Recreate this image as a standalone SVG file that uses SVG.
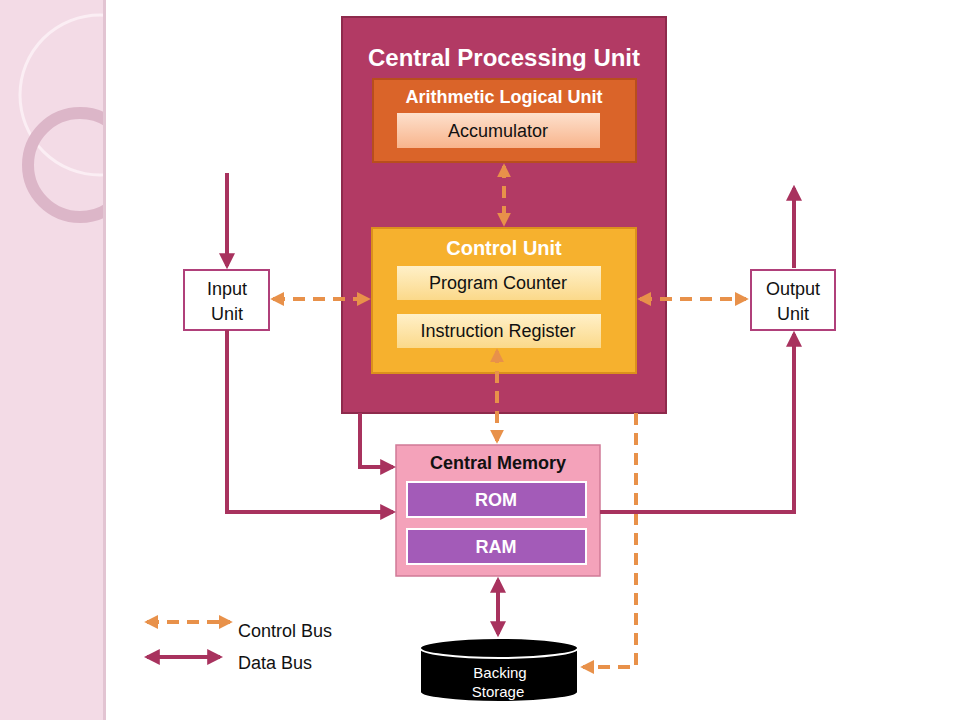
<svg xmlns="http://www.w3.org/2000/svg" width="960" height="720" viewBox="0 0 960 720">
<defs>
<style>
.t{font-family:"Liberation Sans",Arial,sans-serif}
.data{stroke:#a8325e;stroke-width:4;fill:none}
.ctl{stroke:#e8914a;stroke-width:4;fill:none;stroke-dasharray:12 8}
</style>
<clipPath id="strip"><rect x="0" y="0" width="105" height="720"/></clipPath>
<marker id="ad" viewBox="0 0 10 10" refX="8" refY="5" markerWidth="4" markerHeight="4" orient="auto-start-reverse"><path d="M0,0L10,5L0,10z" fill="#a8325e"/></marker>
<marker id="ac" viewBox="0 0 10 10" refX="8" refY="5" markerWidth="3.5" markerHeight="3.5" orient="auto-start-reverse"><path d="M0,0L10,5L0,10z" fill="#e8914a"/></marker>
<linearGradient id="acc" x1="0" y1="0" x2="0" y2="1"><stop offset="0" stop-color="#fde0cc"/><stop offset="1" stop-color="#f8b48c"/></linearGradient>
<linearGradient id="pc" x1="0" y1="0" x2="0" y2="1"><stop offset="0" stop-color="#fff0c8"/><stop offset="1" stop-color="#fbd98a"/></linearGradient>
</defs>
<rect width="960" height="720" fill="#fff"/>
<g id="bg">
<rect x="0" y="0" width="105" height="720" fill="#f3dbe6"/>
<g clip-path="url(#strip)">
<circle cx="100" cy="95" r="80" fill="none" stroke="#fbeef4" stroke-width="3"/>
<circle cx="80" cy="165" r="52" fill="none" stroke="#dcb6c8" stroke-width="12"/>
</g>
<rect x="103" y="0" width="3" height="720" fill="#e2c4d2"/>
</g>
<g id="cpu">
<rect x="342" y="17" width="324" height="396" fill="#b23a64" stroke="#8e2a4c" stroke-width="2"/>
<text class="t" x="504" y="66" text-anchor="middle" font-size="24" font-weight="bold" fill="#fff">Central Processing Unit</text>
</g>
<g id="alu">
<rect x="373" y="79" width="263" height="83" fill="#da6429" stroke="#b84e1c" stroke-width="2"/>
<text class="t" x="504" y="103" text-anchor="middle" font-size="18" font-weight="bold" fill="#fff">Arithmetic Logical Unit</text>
<rect x="397" y="113" width="203" height="35" fill="url(#acc)"/>
<text class="t" x="498" y="137" text-anchor="middle" font-size="18" fill="#111">Accumulator</text>
</g>
<g id="cu">
<rect x="372" y="228" width="264" height="145" fill="#f6b12e" stroke="#dc901c" stroke-width="2"/>
<text class="t" x="504" y="255" text-anchor="middle" font-size="20" font-weight="bold" fill="#fff">Control Unit</text>
<rect x="397" y="266" width="204" height="34" fill="url(#pc)"/>
<text class="t" x="498" y="289" text-anchor="middle" font-size="18" fill="#111">Program Counter</text>
<rect x="397" y="314" width="204" height="34" fill="url(#pc)"/>
<text class="t" x="498" y="337" text-anchor="middle" font-size="18" fill="#111">Instruction Register</text>
</g>
<g id="input">
<rect x="184" y="270" width="85" height="60" fill="#fff" stroke="#b0407a" stroke-width="2"/>
<text class="t" x="227" y="295" text-anchor="middle" font-size="18" fill="#111">Input</text>
<text class="t" x="227" y="320" text-anchor="middle" font-size="18" fill="#111">Unit</text>
</g>
<g id="output">
<rect x="751" y="270" width="84" height="60" fill="#fff" stroke="#b0407a" stroke-width="2"/>
<text class="t" x="793" y="295" text-anchor="middle" font-size="18" fill="#111">Output</text>
<text class="t" x="793" y="320" text-anchor="middle" font-size="18" fill="#111">Unit</text>
</g>
<g id="memory">
<rect x="396" y="445" width="204" height="131" fill="#f4a2ba" stroke="#d07a96" stroke-width="1.5"/>
<text class="t" x="498" y="469" text-anchor="middle" font-size="18" font-weight="bold" fill="#111">Central Memory</text>
<rect x="407" y="482" width="179" height="35" fill="#a35bb8" stroke="#fff" stroke-width="2"/>
<text class="t" x="496" y="506" text-anchor="middle" font-size="18" font-weight="bold" fill="#fff">ROM</text>
<rect x="407" y="529" width="179" height="35" fill="#a35bb8" stroke="#fff" stroke-width="2"/>
<text class="t" x="496" y="553" text-anchor="middle" font-size="18" font-weight="bold" fill="#fff">RAM</text>
</g>
<g id="storage">
<path d="M420,648 L420,692 A79,10 0 0 0 578,692 L578,648" fill="#000" stroke="#fff" stroke-width="2"/>
<ellipse cx="499" cy="648" rx="79" ry="10" fill="#000" stroke="#fff" stroke-width="2"/>
<text class="t" x="500" y="678" text-anchor="middle" font-size="15" fill="#fff">Backing</text>
<text class="t" x="498" y="697" text-anchor="middle" font-size="15" fill="#fff">Storage</text>
</g>
<g id="connectors">
<path class="ctl" d="M504,166 L504,224" marker-start="url(#ac)" marker-end="url(#ac)"/>
<path class="ctl" d="M273,299 L368,299" marker-start="url(#ac)" marker-end="url(#ac)"/>
<path class="ctl" d="M640,299 L746,299" marker-start="url(#ac)" marker-end="url(#ac)"/>
<path class="ctl" d="M497,351 L497,441" marker-start="url(#ac)" marker-end="url(#ac)"/>
<path class="ctl" d="M636,413 L636,667 L583,667" marker-end="url(#ac)"/>
<path class="data" d="M227,173 L227,266" marker-end="url(#ad)"/>
<path class="data" d="M794,268 L794,188" marker-end="url(#ad)"/>
<path class="data" d="M227,330 L227,512 L393,512" marker-end="url(#ad)"/>
<path class="data" d="M360,413 L360,467 L393,467" marker-end="url(#ad)"/>
<path class="data" d="M600,512 L794,512 L794,334" marker-end="url(#ad)"/>
<path class="data" d="M498,580 L498,634" marker-start="url(#ad)" marker-end="url(#ad)"/>
</g>
<g id="legend">
<path class="ctl" d="M147,622 L230,622" marker-start="url(#ac)" marker-end="url(#ac)"/>
<path class="data" d="M147,657 L220,657" marker-start="url(#ad)" marker-end="url(#ad)"/>
<text class="t" x="238" y="637" font-size="18" fill="#111">Control Bus</text>
<text class="t" x="238" y="669" font-size="18" fill="#111">Data Bus</text>
</g>
</svg>
